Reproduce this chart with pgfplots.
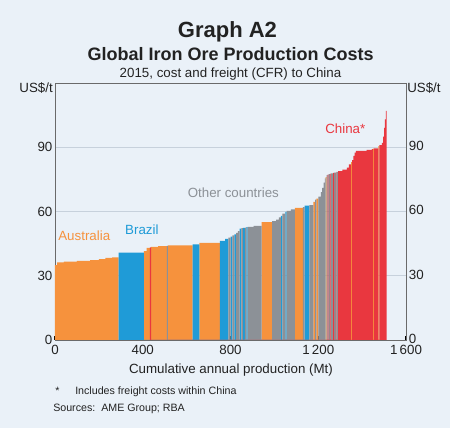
\documentclass[border=0pt]{standalone}
\usepackage{fontspec}
\setmainfont{Liberation Sans}
\usepackage{pgfplots}
\pgfplotsset{compat=1.18}
\definecolor{bg}{HTML}{EAF1F8}
\definecolor{gridc}{HTML}{C7D1DC}
\definecolor{framec}{HTML}{6A6A6A}
\definecolor{aus}{HTML}{F6923D}
\definecolor{bra}{HTML}{1F9BD7}
\definecolor{oth}{HTML}{8C9197}
\definecolor{chn}{HTML}{E9373F}
\definecolor{txt}{HTML}{222222}
\pgfplotsset{
  common/.style={
    at={(41.25pt,66pt)}, anchor=south west, scale only axis,
    width=263.25pt, height=192.75pt,
    xmin=0, xmax=1600, ymin=0, ymax=120,
    ytick={0,30,60,90},
    ytick style={draw=none},
    axis line style={framec, line width=0.6pt},
    tick label style={font=\fontsize{10}{12}\selectfont, text=txt},
    /pgf/number format/assume math mode=true,
  }
}
\begin{document}
\begin{tikzpicture}[x=1pt,y=1pt]
\fill[bg] (0,0) rectangle (337.5,321);
\begin{axis}[common,
  xtick={0,400,800,1200,1600}, xticklabels={0,400,800,1\,200,1\,600},
  xtick pos=bottom, tick align=inside, major tick length=3pt,
  xtick style={black, line width=0.8pt},
  ytick pos=left,
  ymajorgrids, grid style={gridc, line width=0.6pt},
  xticklabel style={inner sep=0pt, yshift=-4pt},
  yticklabel style={inner sep=0pt, xshift=-1.8pt},
]
% Australia
\addplot[const plot, fill=aus, draw=none] coordinates {
 (0,0)(0,35)(10,36.3)(40,36.6)(100,37)(160,37.3)(200,37.8)(230,38.3)(260,38.6)(290,0)
 (405,0)(405,41.5)(418,43)(432,0)
 (438,0)(438,43.5)(470,43.8)(510,0)
 (515,0)(515,44.2)(627,0)
 (658,0)(658,45.3)(752,0)
 (942,0)(942,55)(990,0)
 (1094,0)(1094,61.7)(1130,0)
 (1178,0)(1178,64.5)(1186,0)
 (1192,0)(1192,66)(1200,0)
 (1234,0)(1234,76)(1238,0)
 (1350,0)(1350,83)(1354,0)
 (1449,0)(1449,89.3)(1453,0)
 (1474,0)(1474,90.5)(1479,0)
};
% Brazil
\addplot[const plot, fill=bra, draw=none] coordinates {
 (290,0)(290,40.8)(405,0)
 (627,0)(627,44.6)(658,0)
 (752,0)(752,46.3)(775,47.2)(790,0)
 (800,0)(800,48.3)(808,0)
 (818,0)(818,49.3)(826,0)
 (842,0)(842,52)(850,0)
 (856,0)(856,52.4)(866,0)
 (872,0)(872,52.7)(878,0)
 (1030,0)(1030,58)(1036,0)
 (1050,0)(1050,59.8)(1056,0)
 (1138,0)(1138,62.7)(1160,0)
};
% Other countries
\addplot[const plot, fill=oth, draw=none] coordinates {
 (510,0)(510,44)(515,0)
 (790,0)(790,47.8)(800,0)
 (808,0)(808,48.8)(818,0)
 (826,0)(826,50)(834,50.8)(842,0)
 (850,0)(850,52.2)(856,0)
 (866,0)(866,52.5)(872,0)
 (878,0)(878,52.8)(905,53.3)(942,0)
 (990,0)(990,55.5)(1008,56.2)(1020,57.2)(1030,0)
 (1036,0)(1036,59)(1050,0)
 (1056,0)(1056,60.3)(1075,61)(1094,0)
 (1130,0)(1130,62)(1138,0)
 (1160,0)(1160,63)(1178,0)
 (1186,0)(1186,65.5)(1192,0)
 (1200,0)(1200,67)(1212,69)(1218,71)(1224,73.5)(1230,75.5)(1234,0)
 (1238,0)(1238,77)(1243,0)
 (1246,0)(1246,77.3)(1250,77.5)(1253,0)
 (1256,0)(1256,77.8)(1268,0)
 (1272,0)(1272,78.2)(1280,0)
 (1283,0)(1283,78.5)(1291,0)
};
% China
\addplot[const plot, fill=chn, draw=none] coordinates {
 (432,0)(432,43.3)(438,0)
 (1243,0)(1243,77.2)(1246,0)
 (1253,0)(1253,77.6)(1256,0)
 (1268,0)(1268,78)(1272,0)
 (1280,0)(1280,78.3)(1283,0)
 (1291,0)(1291,78.8)(1310,79.5)(1330,80.5)(1340,82)(1350,0)
 (1354,0)(1354,84)(1360,86)(1366,87.5)(1372,88.3)(1420,88.8)(1445,89.1)(1449,0)
 (1453,0)(1453,89.5)(1474,0)
 (1479,0)(1479,91)(1490,92)(1496,95)(1500,99)(1504,103)(1508,107)(1512,0)
};
\node[anchor=base west, inner sep=0, text=aus, font=\fontsize{10}{12}\selectfont] at (axis cs:14,46.6) {Australia};
\node[anchor=base west, inner sep=0, text=bra, font=\fontsize{10}{12}\selectfont] at (axis cs:319,49.2) {Brazil};
\node[anchor=base east, inner sep=0, text=oth, font=\fontsize{10}{12}\selectfont] at (axis cs:1022,66.4) {Other countries};
\node[anchor=base west, inner sep=0, text=chn, font=\fontsize{10}{12}\selectfont] at (axis cs:1231,96.6) {China*};
\end{axis}
\begin{axis}[common,
  hide x axis, axis y line*=right,
  ytick pos=right, yticklabel pos=right,
  yticklabel style={inner sep=0pt, xshift=2pt, yshift=1pt},
]
\addplot[draw=none] coordinates {(0,0)};
\end{axis}
% texts
\node[anchor=base, inner sep=0, text=txt, font=\bfseries\fontsize{16.5}{18}\selectfont] at (170.6,292.7) {Graph A2};
\node[anchor=base, inner sep=0, text=txt, font=\bfseries\fontsize{13.5}{15}\selectfont] at (172.9,275.25) {Global Iron Ore Production Costs};
\node[anchor=base, inner sep=0, text=txt, font=\fontsize{10}{12}\selectfont] at (172.9,262.5) {2015, cost and freight (CFR) to China};
\node[anchor=base east, inner sep=0, text=txt, font=\fontsize{10}{12}\selectfont] at (39.75,251.25) {US\$/t};
\node[anchor=base west, inner sep=0, text=txt, font=\fontsize{10}{12}\selectfont] at (305.25,251.25) {US\$/t};
\node[anchor=base, inner sep=0, text=txt, font=\fontsize{10}{12}\selectfont] at (173.25,40.5) {Cumulative annual production (Mt)};
\node[anchor=base west, inner sep=0, text=txt, font=\fontsize{8}{10}\selectfont] at (41.25,24.75) {*};
\node[anchor=base west, inner sep=0, text=txt, font=\fontsize{8}{10}\selectfont] at (56.25,24.75) {Includes freight costs within China};
\node[anchor=base west, inner sep=0, text=txt, font=\fontsize{8}{10}\selectfont] at (39.75,12.2) {Sources:};
\node[anchor=base west, inner sep=0, text=txt, font=\fontsize{8}{10}\selectfont] at (75.75,12.2) {AME Group; RBA};
\end{tikzpicture}
\end{document}
